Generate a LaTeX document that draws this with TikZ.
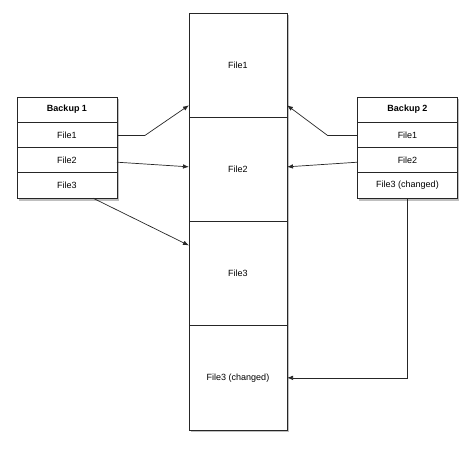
\documentclass[tikz,border=0pt]{standalone}
\usepackage{fontspec}
\setmainfont{Liberation Sans}
\usepackage{tikz}
\usetikzlibrary{arrows.meta, positioning, shadows, calc}

\begin{document}
\begin{tikzpicture}[
        x=1pt, y=1pt,
        every node/.style={font=\fontsize{9}{11}\selectfont},
        cell/.style={draw=black!85, line width=0.8pt, fill=white, minimum width=98pt, minimum height=104.25pt, inner sep=0pt, outer sep=0pt,
            drop shadow={shadow xshift=1.5pt, shadow yshift=-2.5pt, opacity=0.5}},
        row/.style={draw=black!85, line width=0.8pt, fill=white, minimum width=100pt, minimum height=25.3pt, inner sep=0pt, outer sep=0pt,
            drop shadow={shadow xshift=1.5pt, shadow yshift=-2.5pt, opacity=0.5}},
        header/.style={row, font=\fontsize{9}{11}\selectfont\bfseries},
        arrow/.style={draw=black!85, line width=0.7pt, -{Latex[length=6pt, width=4.5pt]}}
    ]
        \useasboundingbox (0,0) rectangle (474,-450);

        % storage column
        \node[cell] (c1) at (238,-65.1) {File1};
        \node[cell, below=0pt of c1] (c2) {File2};
        \node[cell, below=0pt of c2] (c3) {File3};
        \node[cell, below=0pt of c3] (c4) {File3 (changed)};

        % first backup
        \node[header] (b1) at (67,-109.6) {Backup 1};
        \node[row, below=0pt of b1] (b1f1) {File1};
        \node[row, below=0pt of b1f1] (b1f2) {File2};
        \node[row, below=0pt of b1f2] (b1f3) {File3};

        % second backup
        \node[header] (b2) at (407.5,-109.6) {Backup 2};
        \node[row, below=0pt of b2] (b2f1) {File1};
        \node[row, below=0pt of b2f1] (b2f2) {File2};
        \node[row, below=0pt of b2f2] (b2f3) {File3 (changed)};

        % references
        \draw[arrow] ($(b1f1.east)+(0,-0.5)$) -- ++(28,0) -- ($(c1.south west)+(0,12)$);
        \draw[arrow] ($(b1f2.east)+(0,-2)$) -- ($(c2.west)+(0,2.5)$);
        \draw[arrow] ($(b1f3.south)+(26,0)$) -- ($(c3.north west)+(0,-24)$);

        \draw[arrow] ($(b2f1.west)+(0,-0.5)$) -- ++(-30,0) -- ($(c1.south east)+(0,12)$);
        \draw[arrow] ($(b2f2.west)+(0,-2)$) -- ($(c2.east)+(0,2.5)$);
        \draw[arrow] (b2f3.south) |- (c4.east);

    \end{tikzpicture}
\end{document}
